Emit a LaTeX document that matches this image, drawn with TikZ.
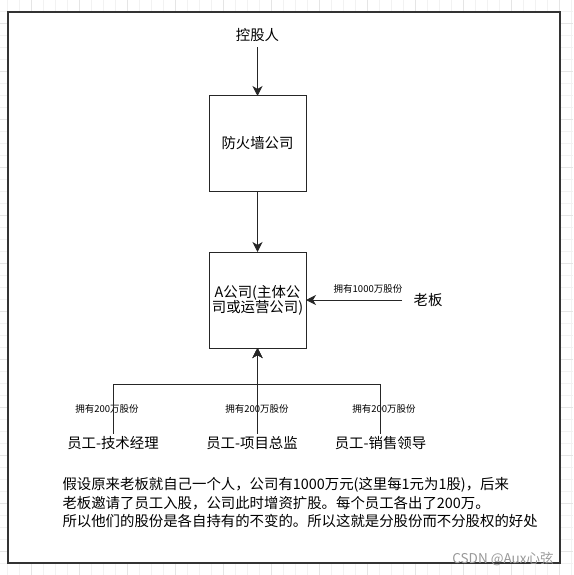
\documentclass[tikz,border=0pt]{standalone}
\usepackage{fontspec}
\setmainfont{Noto Sans CJK SC}
\usetikzlibrary{positioning, arrows.meta}

\begin{document}
\begin{tikzpicture}[x=1pt, y=-1pt, line width=1pt]
% Block styles
\tikzstyle{box}=[inner sep=0pt, outer sep=0pt, draw=black!85, fill=white, align=center, minimum width=97pt, minimum height=96pt, font=\fontsize{14.4}{15}\selectfont]
\tikzstyle{actor}=[inner sep=2pt, font=\fontsize{14.4}{16}\selectfont]
\tikzstyle{share}=[inner sep=0pt, font=\fontsize{9.5}{11}\selectfont]
\tikzstyle{link}=[draw=black!85, -{Stealth[length=10pt, width=10pt, inset=3pt]}]
% Background grid
\useasboundingbox (0,0) rectangle (573,575);
\fill[white] (0,0) rectangle (573,575);
\foreach \x in {7,19,...,571} \draw[black!5, line width=.7pt] (\x,0) -- (\x,575);
\foreach \y in {11,23,...,575} \draw[black!5, line width=.7pt] (0,\y) -- (573,\y);
\foreach \x in {31,79,...,559} \draw[black!10, line width=.7pt] (\x,0) -- (\x,575);
\foreach \y in {23,71,...,551} \draw[black!10, line width=.7pt] (0,\y) -- (573,\y);
% Frame
\draw[draw=black!80, fill=white, line width=1.2pt] (8,12) rectangle (560,563);
% Col 1
\node[actor] (ctrl) at (257.5,35) {控股人};
\node[box, minimum height=95pt, anchor=north] (F) at (257.5,96) {防火墙公司};
\node[box, below=61pt of F] (A) {A公司(主体公\\司或运营公司)};
\node[actor] (boss) at (428,300) {老板};
% Employees
\node[actor] (e1) at (113,443) {员工-技术经理};
\node[actor] (e2) at (252,443) {员工-项目总监};
\node[actor] (e3) at (380.5,443) {员工-销售领导};
% Shares
\node[share] (s0) at (368,289) {拥有1000万股份};
\node[share] (s1) at (107,409) {拥有200万股份};
\node[share] (s2) at (257,409) {拥有200万股份};
\node[share] (s3) at (384,409) {拥有200万股份};
% Note
\node[anchor=west, align=left, inner sep=0pt, font=\fontsize{14.4}{18.5}\selectfont] (note) at (62,503) {假设原来老板就自己一个人，公司有1000万元(这里每1元为1股)，后来\\老板邀请了员工入股，公司此时增资扩股。每个员工各出了200万。\\所以他们的股份是各自持有的不变的。所以这就是分股份而不分股权的好处};
\node[text=black!40, font=\fontsize{13.5}{14}\selectfont] (mark) at (503,559) {CSDN @Aux心弦};
% Arrows
\draw[link, shorten <=3pt] (ctrl) -- (F);
\draw[link] (F) -- (A);
\draw[link] ([xshift=-9pt]boss.west) -- (A.east);
\coordinate (j) at (A.south |- 0,384);
\draw[link] (e1.north) |- (j) -- (A.south);
\draw[link] (e3.north) |- (j) -- (A.south);
\draw[link] (A.south |- e2.north) -- (A.south);
\end{tikzpicture}
\end{document}
